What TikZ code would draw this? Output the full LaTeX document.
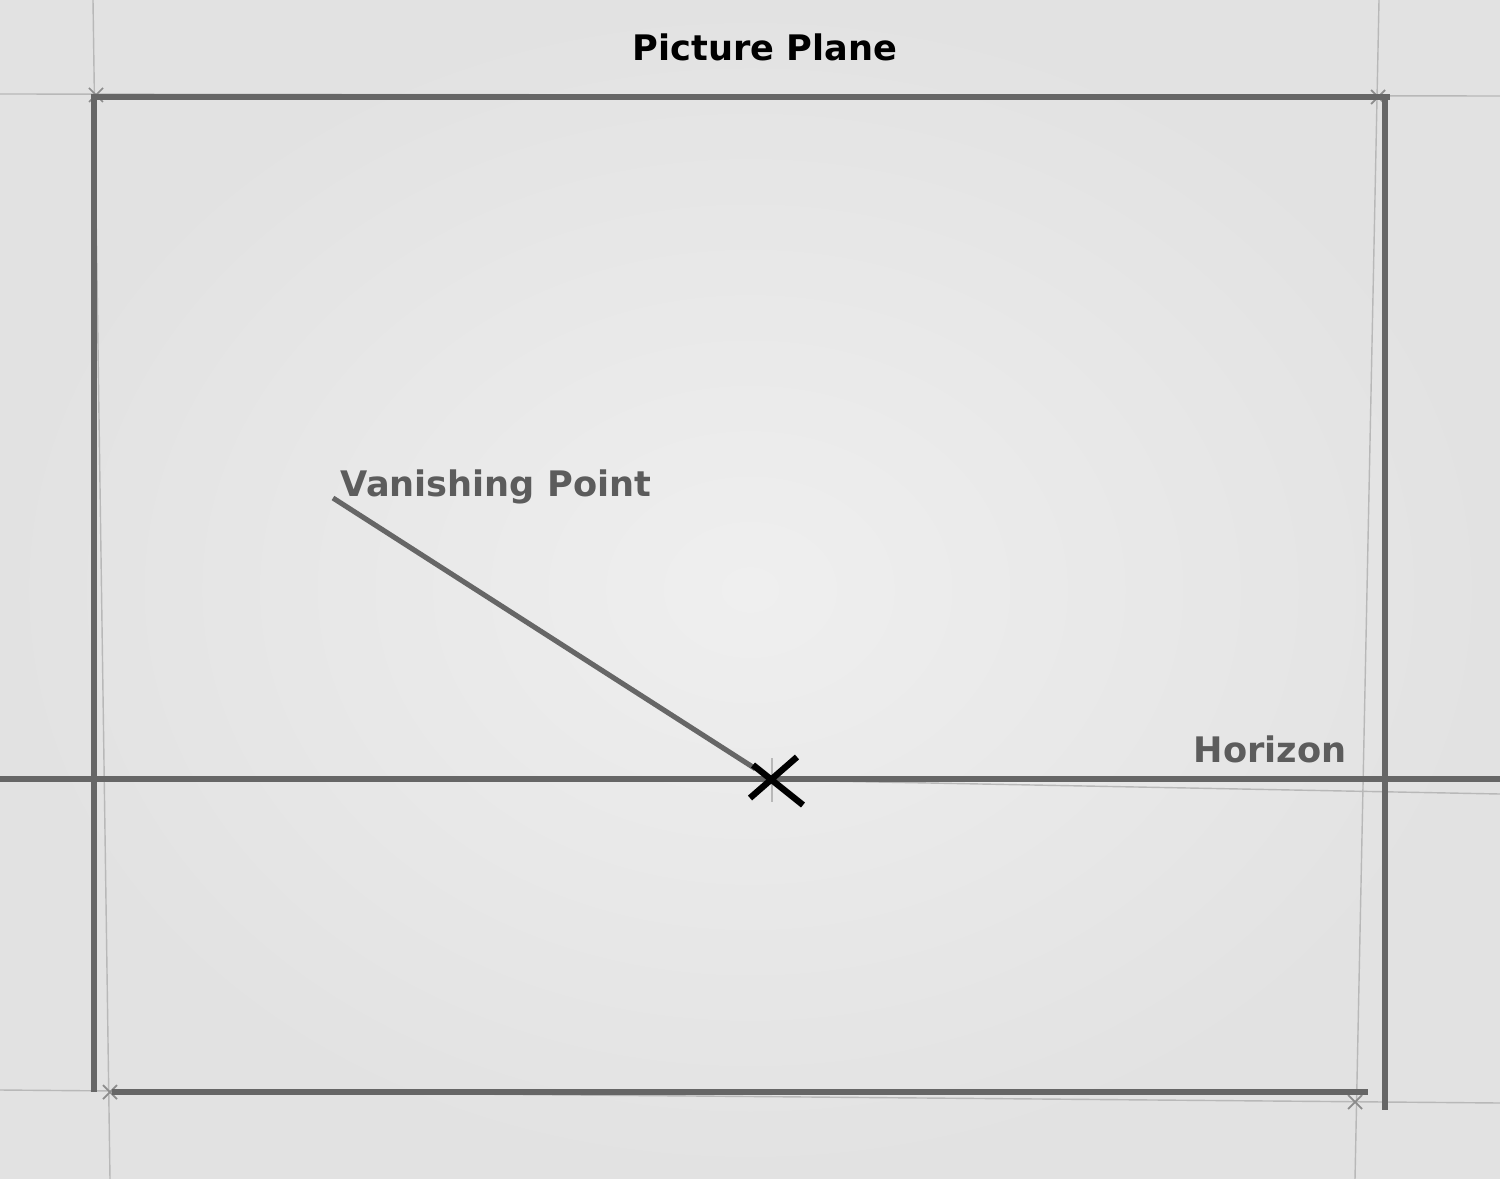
\documentclass[tikz,border=0pt]{standalone}
\usepackage{fontspec}
\setmainfont{DejaVu Sans}
\usepackage{xcolor}
\usepackage{tikz}
\usetikzlibrary{calc}
\definecolor{paperhi}{HTML}{EFEFEF}
\definecolor{paperlo}{HTML}{E2E2E2}
\definecolor{ink}{HTML}{666666}
\definecolor{labelgray}{HTML}{5C5C5C}
\definecolor{pencil}{HTML}{B8B8B8}
\definecolor{pencildark}{HTML}{8C8C8C}
\tikzset{
  frameline/.style={draw=ink, line width=1.45pt},
  pencilline/.style={draw=pencil, line width=0.4pt},
  pencilmark/.style={draw=pencildark, line width=0.5pt},
  crossline/.style={draw=black, line width=1.8pt},
  lab/.style={text=labelgray, font=\bfseries\fontsize{10}{12}\selectfont, inner sep=0pt},
  ttl/.style={text=black, font=\bfseries\fontsize{10}{12}\selectfont, inner sep=0pt},
}

\begin{document}
\begin{tikzpicture}[x=0.01cm,y=-0.01cm]
  \useasboundingbox (0,0) rectangle (1500,1179);
  \shade[inner color=paperhi, outer color=paperlo] (0,0) rectangle (1500,1179);

  % frame corners and horizon
  \coordinate (TL) at (94,97);
  \coordinate (TR) at (1385,97);
  \coordinate (BL) at (112,1092);
  \coordinate (BR) at (1368,1092);
  \coordinate (VP) at (773,780);

  % pencil construction lines
  \draw[pencilline] (93,0) -- (110,1179);
  \draw[pencilline] (1379,0) -- (1355,1179);
  \draw[pencilline] (0,94) -- (1500,96);
  \draw[pencilline] (0,1090) -- (1500,1103);
  \draw[pencilline] (VP) -- (1500,794);
  \draw[pencilline] (772,758) -- (772,802);
  \foreach \px/\py in {96/95, 1378/97, 110/1092, 1355/1102}
    \draw[pencilmark] (\px-7,\py-7) -- (\px+7,\py+7) (\px-7,\py+7) -- (\px+7,\py-7);

  % picture plane
  \draw[frameline] (91,97) -- (1390,97);
  \draw[frameline] (TL) -- (94,1092);
  \draw[frameline] (TR) -- (1385,1110);
  \draw[frameline] (BL) -- (BR);
  \draw[frameline] (0,779) -- (1500,779);

  \node[ttl, anchor=base] (pp) at (765,61) {Picture Plane};
  \node[lab, anchor=base west] (vplab) at (340,496) {Vanishing Point};
  \node[lab, anchor=base west] (hor) at (1193,762) {Horizon};

  \coordinate (lead) at (333,498);
  \draw[frameline] (lead) -- ($(lead)!0.96!(VP)$);
  \draw[crossline] ($(VP)+(-23,18)$) -- ($(VP)+(24,-23)$);
  \draw[crossline] ($(VP)+(-20,-15)$) -- ($(VP)+(30,25)$);
\end{tikzpicture}
\end{document}
